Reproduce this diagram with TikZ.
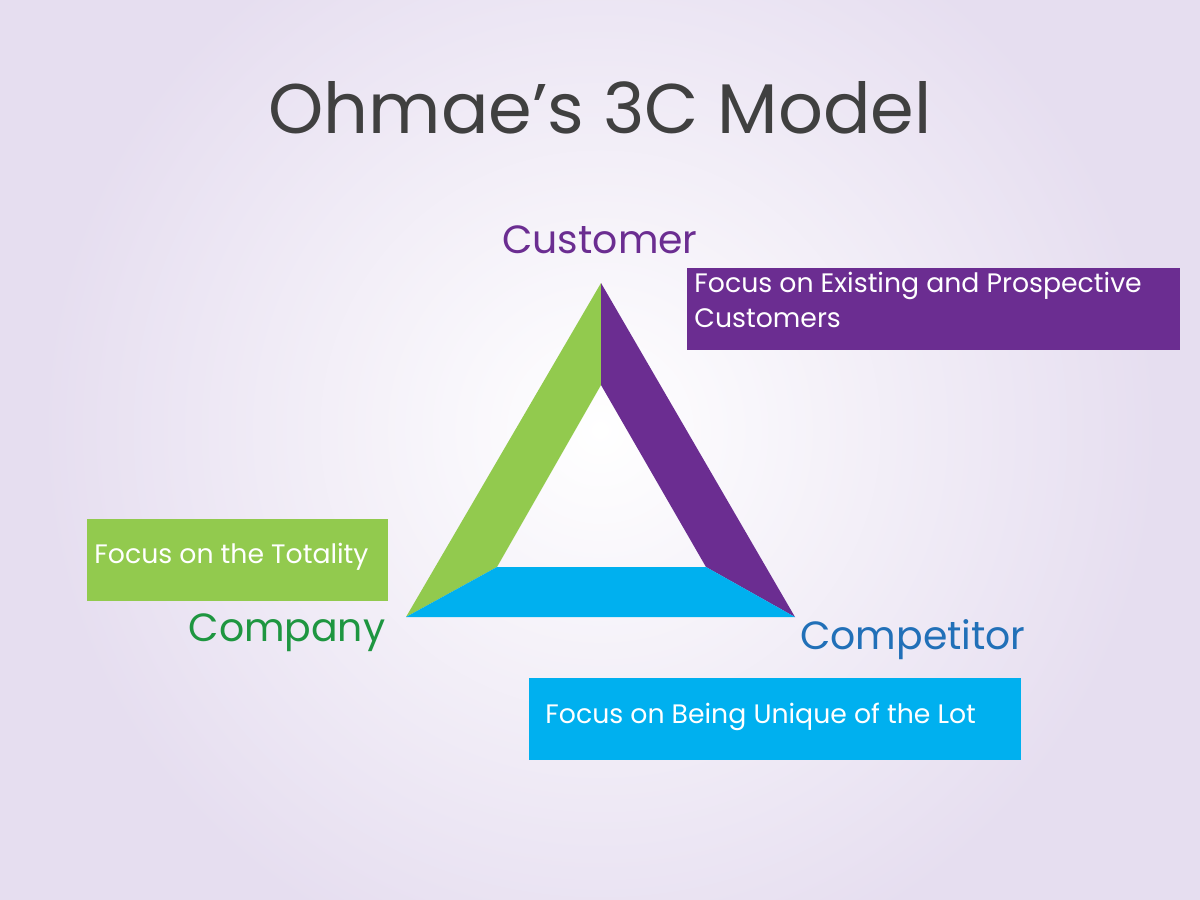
\documentclass[tikz,border=0pt]{standalone}
\usepackage{fontspec}
\setmainfont{Poppins}
\definecolor{ccgreen}{HTML}{92CA4E}
\definecolor{ccpurple}{HTML}{6B2D91}
\definecolor{ccblue}{HTML}{00B0EF}
\definecolor{ccback}{HTML}{E6DEF0}
\definecolor{ccdkgreen}{HTML}{1E9640}
\definecolor{ccdkblue}{HTML}{2170B8}
\tikzset{
  boxtext/.style={text=white, font=\fontsize{38}{50}\selectfont, align=left, anchor=north west},
  cname/.style={font=\fontsize{56}{66}\selectfont}
}
\begin{document}
\begin{tikzpicture}[x=0.05cm, y=-0.05cm]
\useasboundingbox (0,0) rectangle (1200,900);
\fill[ccback] (0,0) rectangle (1200,900);
\shade[inner color=white, outer color=ccback] (600,430) circle (560);
% title
\node[font=\fontsize{100}{110}\selectfont, text=black!75] (title) at (600,108) {Ohmae\symbol{39}s 3C Model};
% triangle
\coordinate (top) at (601,283);
\coordinate (left) at (406,617);
\coordinate (right) at (795,617);
\coordinate (itop) at (601,385);
\coordinate (ileft) at (497,567);
\coordinate (iright) at (706,567);
\fill[ccgreen] (top) -- (itop) -- (ileft) -- (left) -- cycle;
\fill[ccpurple] (top) -- (right) -- (iright) -- (itop) -- cycle;
\fill[ccblue] (left) -- (ileft) -- (iright) -- (right) -- cycle;
% labels
\node[cname, text=ccpurple] (customer) at (600,240) {Customer};
\node[cname, text=ccdkgreen] (company) at (287,633) {Company};
\node[cname, text=ccdkblue] (competitor) at (913,640) {Competitor};
% boxes
\fill[ccpurple] (687,268) rectangle (1180,350);
\node[boxtext] (custtext) at (692,270) {Focus on Existing and Prospective\\Customers};
\fill[ccgreen] (87,519) rectangle (388,601);
\node[boxtext, anchor=west] (comptext) at (92,557) {Focus on the Totality};
\fill[ccblue] (529,678) rectangle (1021,760);
\node[boxtext, anchor=west] (competext) at (543,717) {Focus on Being Unique of the Lot};
\end{tikzpicture}
\end{document}
